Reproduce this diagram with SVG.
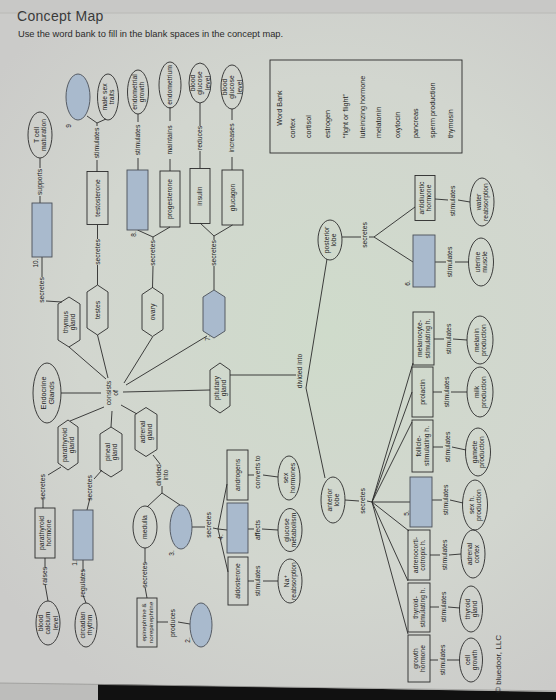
<svg xmlns="http://www.w3.org/2000/svg" width="556" height="700" viewBox="0 0 556 700">
<defs>
<radialGradient id="paper" cx="330" cy="330" r="420" gradientUnits="userSpaceOnUse">
<stop offset="0" stop-color="#cfdbcb"/>
<stop offset="0.6" stop-color="#d2d6cf"/>
<stop offset="1" stop-color="#cbcbc9"/>
</radialGradient>
<style>
text{font-family:"Liberation Sans","DejaVu Sans",sans-serif;font-size:6.8px;fill:#1e1e1e;text-anchor:middle}
.node ellipse,.node rect,.node polygon{fill:none;stroke:#2b2b2b;stroke-width:0.9}
.blue ellipse,.blue rect,.blue polygon{fill:#a9bacd;stroke:#4a4f58}
#connectors line{stroke:#2b2b2b;stroke-width:0.9}
.num{font-size:6.5px}
.wb text{text-anchor:start;font-size:7.2px}
</style>
</defs>
<rect width="556" height="700" fill="url(#paper)"/>
<rect width="556" height="13" fill="#c8c8c6"/>
<line x1="0" y1="13" x2="556" y2="13" stroke="#b5b5b3" stroke-width="0.8"/>
<polygon points="0,683 98,684 98,700 0,700" fill="#bdbdbb"/>
<polygon points="98,684 556,692 556,700 98,700" fill="#111"/>
<line x1="0" y1="683" x2="556" y2="691" stroke="#9a9a98" stroke-width="0.8"/>

<text x="17" y="21" style="font-size:14px;text-anchor:start;fill:#3a3a3a;letter-spacing:0.3px">Concept Map</text>
<text x="18" y="36.5" style="font-size:9.3px;text-anchor:start;fill:#2a2a2a">Use the word bank to fill in the blank spaces in the concept map.</text>

<!-- Word bank -->
<g id="wordbank" class="node wb">
<rect x="270" y="60" width="192" height="93"/>
<text transform="translate(282,108) rotate(-90)" style="text-anchor:middle">Word Bank</text>
<text transform="translate(294.5,138) rotate(-90)">cortex</text>
<text transform="translate(310.5,138) rotate(-90)">cortisol</text>
<text transform="translate(329.5,138) rotate(-90)">estrogen</text>
<text transform="translate(347.5,138) rotate(-90)">“fight or flight”</text>
<text transform="translate(364.5,138) rotate(-90)">luteinizing hormone</text>
<text transform="translate(380.5,138) rotate(-90)">melatonin</text>
<text transform="translate(399.5,138) rotate(-90)">oxytocin</text>
<text transform="translate(417.5,138) rotate(-90)">pancreas</text>
<text transform="translate(434.5,138) rotate(-90)">sperm production</text>
<text transform="translate(452.5,138) rotate(-90)">thymosin</text>
</g>

<g id="connectors">
<line x1="40" y1="158" x2="40" y2="168"/><line x1="40" y1="196" x2="40" y2="203"/>
<line x1="42" y1="257" x2="42" y2="277"/><line x1="46" y1="301" x2="62" y2="302"/>
<line x1="69" y1="347" x2="106" y2="379"/>
<line x1="87" y1="116" x2="97" y2="123"/><line x1="106" y1="119" x2="97" y2="123"/><line x1="97" y1="123" x2="97" y2="126"/><line x1="97" y1="160" x2="97" y2="172"/>
<line x1="97.5" y1="225" x2="97.5" y2="239"/><line x1="97.5" y1="265" x2="97.5" y2="285"/>
<line x1="97.5" y1="335" x2="108" y2="378"/>
<line x1="138" y1="114" x2="138" y2="122"/><line x1="138" y1="158" x2="138" y2="170"/>
<line x1="137.5" y1="230" x2="153" y2="237"/><line x1="170" y1="227" x2="153" y2="237"/><line x1="153" y1="237" x2="153" y2="240"/><line x1="153" y1="266" x2="152.5" y2="288"/>
<line x1="152.5" y1="337" x2="124" y2="383"/>
<line x1="170" y1="107" x2="170" y2="121"/><line x1="170" y1="159" x2="170" y2="171"/>
<line x1="200" y1="103" x2="200" y2="126"/><line x1="200" y1="151" x2="200" y2="168"/>
<line x1="232" y1="109" x2="232" y2="120"/><line x1="232" y1="157" x2="232" y2="170"/>
<line x1="200" y1="223" x2="214" y2="236"/><line x1="232.5" y1="225" x2="214" y2="236"/><line x1="214" y1="236" x2="214" y2="240"/><line x1="214" y1="266" x2="214" y2="290"/>
<line x1="207" y1="336" x2="126" y2="385"/>
<line x1="61" y1="393" x2="101" y2="393"/><line x1="123" y1="392" x2="210" y2="390"/>
<line x1="104" y1="407" x2="70" y2="421"/><line x1="112" y1="411" x2="111" y2="427"/><line x1="121" y1="405" x2="137" y2="414"/>
<line x1="61" y1="467" x2="48" y2="475"/><line x1="43" y1="498" x2="43" y2="508"/>
<line x1="45" y1="558" x2="45" y2="568"/><line x1="45" y1="584" x2="48" y2="601"/>
<line x1="102" y1="470" x2="94" y2="479"/><line x1="90" y1="498" x2="87" y2="510"/>
<line x1="83" y1="560" x2="83" y2="571"/><line x1="83" y1="595" x2="86" y2="603"/>
<line x1="153" y1="455" x2="160" y2="464"/><line x1="162" y1="486" x2="162" y2="493"/><line x1="162" y1="493" x2="147" y2="507"/><line x1="162" y1="493" x2="180" y2="505"/>
<line x1="145" y1="548" x2="145" y2="563"/><line x1="145" y1="587" x2="147" y2="598"/>
<line x1="157" y1="622" x2="168" y2="622"/><line x1="178" y1="622" x2="190" y2="624"/>
<line x1="192" y1="527" x2="205" y2="527"/><line x1="213" y1="528" x2="218" y2="529"/><line x1="218" y1="529" x2="227" y2="484"/><line x1="218" y1="529" x2="227" y2="530"/><line x1="218" y1="529" x2="228" y2="572"/>
<line x1="248" y1="475" x2="254" y2="475"/><line x1="263" y1="475" x2="278" y2="477"/>
<line x1="248" y1="529" x2="254" y2="529"/><line x1="262" y1="529" x2="278" y2="530"/>
<line x1="248" y1="581" x2="254" y2="581"/><line x1="263" y1="581" x2="278" y2="581"/>
<line x1="230" y1="375" x2="296" y2="375"/><line x1="306" y1="388" x2="327" y2="259"/><line x1="306" y1="388" x2="325" y2="478"/>
<line x1="342" y1="237" x2="361" y2="237"/><line x1="369" y1="237" x2="374" y2="237"/><line x1="374" y1="237" x2="415" y2="207"/><line x1="374" y1="237" x2="413" y2="262"/>
<line x1="435" y1="199" x2="448" y2="200"/><line x1="458" y1="200" x2="470" y2="202"/>
<line x1="435" y1="262" x2="446" y2="262"/><line x1="455" y1="262" x2="469" y2="262"/>
<line x1="345" y1="500" x2="359" y2="501"/><line x1="367" y1="501" x2="372" y2="502"/>
<line x1="372" y1="502" x2="413" y2="363"/><line x1="372" y1="502" x2="412" y2="392"/><line x1="372" y1="502" x2="412" y2="422"/><line x1="372" y1="502" x2="410" y2="502"/><line x1="372" y1="502" x2="409" y2="531"/><line x1="372" y1="502" x2="408" y2="581"/><line x1="372" y1="502" x2="408" y2="634"/>
<line x1="434" y1="339" x2="444" y2="339"/><line x1="453" y1="339" x2="467" y2="340"/>
<line x1="433" y1="392" x2="442" y2="392"/><line x1="451" y1="392" x2="467" y2="392"/>
<line x1="433" y1="447" x2="443" y2="447"/><line x1="452" y1="447" x2="466" y2="450"/>
<line x1="432" y1="500" x2="442" y2="500"/><line x1="450" y1="500" x2="463" y2="503"/>
<line x1="430" y1="555" x2="440" y2="555"/><line x1="449" y1="555" x2="461" y2="554"/>
<line x1="430" y1="607" x2="439" y2="607"/><line x1="448" y1="607" x2="460" y2="608"/>
<line x1="430" y1="660" x2="438" y2="660"/><line x1="447" y1="660" x2="460" y2="660"/>
<!-- link labels -->
<text transform="translate(40,182) rotate(-90)" y="2.4">supports</text>
<text transform="translate(42,290) rotate(-90)" y="2.4">secretes</text>
<text transform="translate(97,143) rotate(-90)" y="2.4">stimulates</text>
<text transform="translate(97.5,252) rotate(-90)" y="2.4">secretes</text>
<text transform="translate(138,140) rotate(-90)" y="2.4">stimulates</text>
<text transform="translate(170,140) rotate(-90)" y="2.4">maintains</text>
<text transform="translate(153,253) rotate(-90)" y="2.4">secretes</text>
<text transform="translate(200,138) rotate(-90)" y="2.4">reduces</text>
<text transform="translate(232,138) rotate(-90)" y="2.4">increases</text>
<text transform="translate(214,253) rotate(-90)" y="2.4">secretes</text>
<text transform="translate(112,393) rotate(-90)"><tspan x="0" y="-1.2">consists</tspan><tspan x="0" y="6">of</tspan></text>
<text transform="translate(43,487) rotate(-90)" y="2.4">secretes</text>
<text transform="translate(45,576) rotate(-90)" y="2.4">raises</text>
<text transform="translate(90,488) rotate(-90)" y="2.4">secretes</text>
<text transform="translate(83,583) rotate(-90)" y="2.4">regulates</text>
<text transform="translate(162,475) rotate(-90)"><tspan x="0" y="-1.2">divided</tspan><tspan x="0" y="6">into</tspan></text>
<text transform="translate(145,575) rotate(-90)" y="2.4">secretes</text>
<text transform="translate(173,623) rotate(-90)" y="2.4">produces</text>
<text transform="translate(209,525) rotate(-90)" y="2.4">secretes</text>
<text transform="translate(258,472) rotate(-90)" y="2.4">converts to</text>
<text transform="translate(258,530) rotate(-90)" y="2.4">affects</text>
<text transform="translate(258,581) rotate(-90)" y="2.4">stimulates</text>
<text transform="translate(300,371) rotate(-90)" y="2.4">divided into</text>
<text transform="translate(365,235) rotate(-90)" y="2.4">secretes</text>
<text transform="translate(363,501) rotate(-90)" y="2.4">secretes</text>
<text transform="translate(453,201) rotate(-90)" y="2.4">stimulates</text>
<text transform="translate(450,262) rotate(-90)" y="2.4">stimulates</text>
<text transform="translate(448.5,339) rotate(-90)" y="2.4">stimulates</text>
<text transform="translate(446.5,392) rotate(-90)" y="2.4">stimulates</text>
<text transform="translate(447.5,447) rotate(-90)" y="2.4">stimulates</text>
<text transform="translate(446,500) rotate(-90)" y="2.4">stimulates</text>
<text transform="translate(444.5,555) rotate(-90)" y="2.4">stimulates</text>
<text transform="translate(443.5,607) rotate(-90)" y="2.4">stimulates</text>
<text transform="translate(442.5,660) rotate(-90)" y="2.4">stimulates</text>
<!-- blank numbers -->
<text class="num" transform="translate(36,263) rotate(-90)" y="2.3">10.</text>
<text class="num" transform="translate(69,126) rotate(-90)" y="2.3">9</text>
<text class="num" transform="translate(134,234) rotate(-90)" y="2.3">8.</text>
<text class="num" transform="translate(208,338) rotate(-90)" y="2.3">7.</text>
<text class="num" transform="translate(408,283) rotate(-90)" y="2.3">6.</text>
<text class="num" transform="translate(407,513) rotate(-90)" y="2.3">5.</text>
<text class="num" transform="translate(221,537) rotate(-90)" y="2.3">4.</text>
<text class="num" transform="translate(172,553) rotate(-90)" y="2.3">3.</text>
<text class="num" transform="translate(188,640) rotate(-90)" y="2.3">2.</text>
<text class="num" transform="translate(75,563) rotate(-90)" y="2.3">1.</text>
</g>

<!-- top row -->
<g id="tcell" class="node" transform="translate(40,135) rotate(-90)"><ellipse rx="23" ry="12"/><text><tspan x="0" y="-1.2">T cell</tspan><tspan x="0" y="6">maturation</tspan></text></g>
<g id="blank10" class="node blue" transform="translate(42,230) rotate(-90)"><rect x="-27" y="-10" width="54" height="20"/></g>
<g id="blank9" class="node blue" transform="translate(78,97) rotate(-90)"><ellipse rx="23" ry="12"/></g>
<g id="malesex" class="node" transform="translate(108,97) rotate(-90)"><ellipse rx="23" ry="10.5"/><text><tspan x="0" y="-1.2">male sex</tspan><tspan x="0" y="6">traits</tspan></text></g>
<g id="testosterone" class="node" transform="translate(97.5,198) rotate(-90)"><rect x="-26.5" y="-10.5" width="53" height="21"/><text y="2.4">testosterone</text></g>
<g id="endogrowth" class="node" transform="translate(138,92) rotate(-90)"><ellipse rx="22" ry="10.5"/><text><tspan x="0" y="-1.2">endometrial</tspan><tspan x="0" y="6">growth</tspan></text></g>
<g id="blank8" class="node blue" transform="translate(137.5,200) rotate(-90)"><rect x="-30" y="-10.5" width="60" height="21"/></g>
<g id="endometrium" class="node" transform="translate(170,85) rotate(-90)"><ellipse rx="23" ry="11"/><text y="2.4">endometrium</text></g>
<g id="progesterone" class="node" transform="translate(170,199) rotate(-90)"><rect x="-28" y="-10" width="56" height="20"/><text y="2.4">progesterone</text></g>
<g id="bgl1" class="node" transform="translate(200,83) rotate(-90)"><ellipse rx="20" ry="11"/><text><tspan x="0" y="-4.8">blood</tspan><tspan x="0" y="2.4">glucose</tspan><tspan x="0" y="9.6">level</tspan></text></g>
<g id="insulin" class="node" transform="translate(200,196) rotate(-90)"><rect x="-27.5" y="-10" width="55" height="20"/><text y="2.4">insulin</text></g>
<g id="bgl2" class="node" transform="translate(232,87) rotate(-90)"><ellipse rx="22" ry="11"/><text><tspan x="0" y="-4.8">blood</tspan><tspan x="0" y="2.4">glucose</tspan><tspan x="0" y="9.6">level</tspan></text></g>
<g id="glucagon" class="node" transform="translate(232.5,197.5) rotate(-90)"><rect x="-27.5" y="-10.5" width="55" height="21"/><text y="2.4">glucagon</text></g>

<!-- glands -->
<g id="thymus" class="node" transform="translate(69,322) rotate(-90)"><polygon points="-25,0 -18,-11 18,-11 25,0 18,11 -18,11"/><text><tspan x="0" y="-1.2">thymus</tspan><tspan x="0" y="6">gland</tspan></text></g>
<g id="testes" class="node" transform="translate(97.5,310) rotate(-90)"><polygon points="-25,0 -18,-10.5 18,-10.5 25,0 18,10.5 -18,10.5"/><text y="2.4">testes</text></g>
<g id="ovary" class="node" transform="translate(152.5,312) rotate(-90)"><polygon points="-24.5,0 -17.5,-10.5 17.5,-10.5 24.5,0 17.5,10.5 -17.5,10.5"/><text y="2.4">ovary</text></g>
<g id="blank7" class="node blue" transform="translate(214,314) rotate(-90)"><polygon points="-24,0 -17,-11 17,-11 24,0 17,11 -17,11"/></g>
<g id="endocrine" class="node" transform="translate(47,393) rotate(-90)"><ellipse rx="30" ry="14"/><text style="font-size:7.3px"><tspan x="0" y="-1.3">Endocrine</tspan><tspan x="0" y="6.6">Glands</tspan></text></g>
<g id="pituitary" class="node" transform="translate(220,388) rotate(-90)"><polygon points="-25,0 -18,-10 18,-10 25,0 18,10 -18,10"/><text><tspan x="0" y="-1.2">pituitary</tspan><tspan x="0" y="6">gland</tspan></text></g>
<g id="parathyroidgland" class="node" transform="translate(68,445) rotate(-90)"><polygon points="-25,0 -18,-10 18,-10 25,0 18,10 -18,10"/><text><tspan x="0" y="-1.2">parathyroid</tspan><tspan x="0" y="6">gland</tspan></text></g>
<g id="pineal" class="node" transform="translate(111,452) rotate(-90)"><polygon points="-25,0 -18,-11 18,-11 25,0 18,11 -18,11"/><text><tspan x="0" y="-1.2">pineal</tspan><tspan x="0" y="6">gland</tspan></text></g>
<g id="adrenal" class="node" transform="translate(146,432) rotate(-90)"><polygon points="-24.5,0 -17.5,-11 17.5,-11 24.5,0 17.5,11 -17.5,11"/><text><tspan x="0" y="-1.2">adrenal</tspan><tspan x="0" y="6">gland</tspan></text></g>

<g id="parathyroidhormone" class="node" transform="translate(45,533) rotate(-90)"><rect x="-25" y="-10" width="50" height="20"/><text><tspan x="0" y="-1.2">parathyroid</tspan><tspan x="0" y="6">hormone</tspan></text></g>
<g id="bloodcalcium" class="node" transform="translate(48,623) rotate(-90)"><ellipse rx="22" ry="12"/><text><tspan x="0" y="-4.8">blood</tspan><tspan x="0" y="2.4">calcium</tspan><tspan x="0" y="9.6">level</tspan></text></g>
<g id="blank1" class="node blue" transform="translate(83,535) rotate(-90)"><rect x="-25" y="-10" width="50" height="20"/></g>
<g id="circadian" class="node" transform="translate(86,625) rotate(-90)"><ellipse rx="22" ry="11"/><text><tspan x="0" y="-1.2">circadian</tspan><tspan x="0" y="6">rhythm</tspan></text></g>
<g id="medulla" class="node" transform="translate(145,527) rotate(-90)"><ellipse rx="21" ry="12"/><text y="2.4">medulla</text></g>
<g id="blank3" class="node blue" transform="translate(181,527) rotate(-90)"><ellipse rx="22" ry="11"/></g>
<g id="epinephrine" class="node" transform="translate(147,622.5) rotate(-90)"><rect x="-24.5" y="-10" width="49" height="20"/><text style="font-size:6.2px"><tspan x="0" y="-1.1">epinephrine &amp;</tspan><tspan x="0" y="5.6">norepinephrine</tspan></text></g>
<g id="blank2" class="node blue" transform="translate(201,625) rotate(-90)"><ellipse rx="22" ry="11"/></g>
<g id="androgens" class="node" transform="translate(237.5,475) rotate(-90)"><rect x="-25" y="-10.5" width="50" height="21"/><text y="2.4">androgens</text></g>
<g id="blank4" class="node blue" transform="translate(237.5,528) rotate(-90)"><rect x="-25" y="-10.5" width="50" height="21"/></g>
<g id="aldosterone" class="node" transform="translate(238,581) rotate(-90)"><rect x="-24" y="-10" width="48" height="20"/><text y="2.4">aldosterone</text></g>
<g id="sexhormones" class="node" transform="translate(289,478) rotate(-90)"><ellipse rx="22" ry="11"/><text><tspan x="0" y="-1.2">sex</tspan><tspan x="0" y="6">hormones</tspan></text></g>
<g id="glucosemetab" class="node" transform="translate(290,530) rotate(-90)"><ellipse rx="21.5" ry="12"/><text><tspan x="0" y="-1.2">glucose</tspan><tspan x="0" y="6">metabolism</tspan></text></g>
<g id="nareab" class="node" transform="translate(290,581) rotate(-90)"><ellipse rx="22" ry="12"/><text><tspan x="0" y="-1.2">Na⁺</tspan><tspan x="0" y="6">reabsorption</tspan></text></g>

<!-- pituitary lobes -->
<g id="posterior" class="node" transform="translate(330,240) rotate(-90)"><ellipse rx="20" ry="12"/><text><tspan x="0" y="-1.2">posterior</tspan><tspan x="0" y="6">lobe</tspan></text></g>
<g id="anterior" class="node" transform="translate(333,500) rotate(-90)"><ellipse rx="23" ry="12"/><text><tspan x="0" y="-1.2">anterior</tspan><tspan x="0" y="6">lobe</tspan></text></g>
<g id="adh" class="node" transform="translate(425,198) rotate(-90)"><rect x="-22.5" y="-10" width="45" height="20"/><text><tspan x="0" y="-1.2">antidiuretic</tspan><tspan x="0" y="6">hormone</tspan></text></g>
<g id="water" class="node" transform="translate(482,202) rotate(-90)"><ellipse rx="24" ry="12"/><text><tspan x="0" y="-1.2">water</tspan><tspan x="0" y="6">reabsorption</tspan></text></g>
<g id="blank6" class="node blue" transform="translate(424,261) rotate(-90)"><rect x="-26" y="-11" width="52" height="22"/></g>
<g id="uterine" class="node" transform="translate(481,262) rotate(-90)"><ellipse rx="24" ry="12.5"/><text><tspan x="0" y="-1.2">uterine</tspan><tspan x="0" y="6">muscle</tspan></text></g>
<g id="msh" class="node" transform="translate(423.5,338.5) rotate(-90)"><rect x="-26.5" y="-10.5" width="53" height="21"/><text><tspan x="0" y="-1.2">melanocyte-</tspan><tspan x="0" y="6">stimulating h.</tspan></text></g>
<g id="melanin" class="node" transform="translate(480,340) rotate(-90)"><ellipse rx="24" ry="13"/><text><tspan x="0" y="-1.2">melanin</tspan><tspan x="0" y="6">production</tspan></text></g>
<g id="prolactin" class="node" transform="translate(422.5,392) rotate(-90)"><rect x="-25" y="-10.5" width="50" height="21"/><text y="2.4">prolactin</text></g>
<g id="milk" class="node" transform="translate(480,392) rotate(-90)"><ellipse rx="25" ry="13"/><text><tspan x="0" y="-1.2">milk</tspan><tspan x="0" y="6">production</tspan></text></g>
<g id="fsh" class="node" transform="translate(422.5,446) rotate(-90)"><rect x="-26" y="-10.5" width="52" height="21"/><text><tspan x="0" y="-1.2">follicle-</tspan><tspan x="0" y="6">stimulating h.</tspan></text></g>
<g id="gamete" class="node" transform="translate(478,452) rotate(-90)"><ellipse rx="24" ry="12.5"/><text><tspan x="0" y="-1.2">gamete</tspan><tspan x="0" y="6">production</tspan></text></g>
<g id="blank5" class="node blue" transform="translate(421,502) rotate(-90)"><rect x="-25" y="-11" width="50" height="22"/></g>
<g id="sexhprod" class="node" transform="translate(475,505) rotate(-90)"><ellipse rx="25" ry="12.5"/><text><tspan x="0" y="-1.2">sex h.</tspan><tspan x="0" y="6">production</tspan></text></g>
<g id="acth" class="node" transform="translate(419,555) rotate(-90)"><rect x="-25" y="-11" width="50" height="22"/><text><tspan x="0" y="-1.2">adrenocorti-</tspan><tspan x="0" y="6">cotropic h.</tspan></text></g>
<g id="adrenalcortex" class="node" transform="translate(473,554) rotate(-90)"><ellipse rx="24" ry="12"/><text><tspan x="0" y="-1.2">adrenal</tspan><tspan x="0" y="6">cortex</tspan></text></g>
<g id="tsh" class="node" transform="translate(419,607.5) rotate(-90)"><rect x="-24.5" y="-11" width="49" height="22"/><text><tspan x="0" y="-1.2">thyroid-</tspan><tspan x="0" y="6">stimulating h.</tspan></text></g>
<g id="thyroidgland" class="node" transform="translate(471,609) rotate(-90)"><ellipse rx="23" ry="11.5"/><text><tspan x="0" y="-1.2">thyroid</tspan><tspan x="0" y="6">gland</tspan></text></g>
<g id="gh" class="node" transform="translate(419,658.5) rotate(-90)"><rect x="-23.5" y="-11" width="47" height="22"/><text><tspan x="0" y="-1.2">growth</tspan><tspan x="0" y="6">hormone</tspan></text></g>
<g id="cellgrowth" class="node" transform="translate(471,660) rotate(-90)"><ellipse rx="22" ry="11.5"/><text><tspan x="0" y="-1.2">cell</tspan><tspan x="0" y="6">growth</tspan></text></g>

<text transform="translate(498,664) rotate(-90)" y="3" style="font-size:8px;fill:#2a2a2a">© bluedoor, LLC</text>
</svg>
